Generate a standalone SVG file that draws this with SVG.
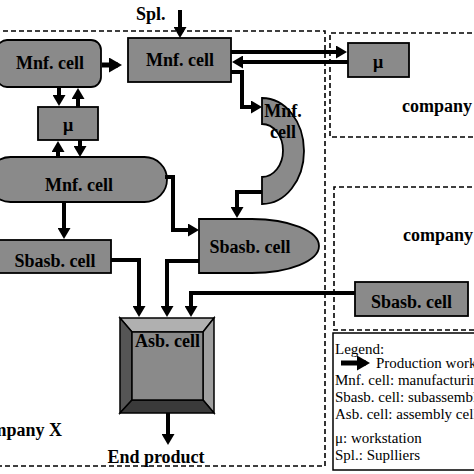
<svg xmlns="http://www.w3.org/2000/svg" width="474" height="474" viewBox="0 0 474 474">
<style>
.bg{fill:#ffffff}
.dash{fill:none;stroke:#000;stroke-width:1.6;stroke-dasharray:5 3}
.node{fill:#8a8a8a;stroke:#000;stroke-width:1.8}
.lbl{font-family:"Liberation Serif","Times New Roman",serif;font-weight:bold;font-size:18px;fill:#000;text-anchor:middle}
.big{font-family:"Liberation Serif","Times New Roman",serif;font-weight:bold;font-size:18px;fill:#000}
.leg{font-family:"Liberation Serif","Times New Roman",serif;font-size:15px;fill:#000}
.conn{fill:none;stroke:#000;stroke-width:4;marker-end:url(#ah)}
</style>
<defs>
<marker id="ah" viewBox="0 0 11 13" refX="7" refY="6.5" markerWidth="11" markerHeight="13" markerUnits="userSpaceOnUse" orient="auto">
<path d="M0,0 L11,6.5 L0,13 Z" fill="#000"/>
</marker>
<marker id="ahb" viewBox="0 0 13 15" refX="9" refY="7.5" markerWidth="13" markerHeight="15" markerUnits="userSpaceOnUse" orient="auto">
<path d="M0,0 L13,7.5 L0,15 Z" fill="#000"/>
</marker>
</defs>
<rect class="bg" x="0" y="0" width="474" height="474"/>

<g id="regions">
<path class="dash" d="M-5,31 H325 V466 H-5"/>
<path class="dash" d="M480,33 H330 V137 H480"/>
<path class="dash" d="M480,187 H334 V330 H480"/>
<text class="big" x="402" y="112">company</text>
<text class="big" x="403" y="241">company</text>
<text class="big" x="62" y="436" text-anchor="end">Company X</text>
</g>

<g id="spl">
<text class="big" x="136" y="20">Spl.</text>
</g>

<g id="mnf-tl">
<rect class="node" x="-3" y="40" width="104" height="47" rx="10"/>
<text class="lbl" x="50" y="69">Mnf. cell</text>
</g>

<g id="mnf-top">
<rect class="node" x="128" y="38" width="103" height="44"/>
<text class="lbl" x="180" y="66">Mnf. cell</text>
</g>

<g id="mu-right">
<rect class="node" x="348" y="43" width="61" height="34"/>
<text class="lbl" x="378" y="68">μ</text>
</g>

<g id="mu-left">
<rect class="node" x="38" y="107" width="60" height="33"/>
<text class="lbl" x="68" y="131">μ</text>
</g>

<g id="mnf-curved">
<path class="node" d="M262,98 A42,53 0 0 1 262,204 V177 A21,26.5 0 0 0 262,124 Z"/>
<text class="lbl" x="283" y="117">Mnf.</text>
<text class="lbl" x="283" y="138">cell</text>
</g>

<g id="mnf-mid">
<rect class="node" x="-12" y="157" width="179" height="45" rx="22.5"/>
<text class="lbl" x="79" y="191">Mnf. cell</text>
</g>

<g id="sbasb-left">
<rect class="node" x="-2" y="240" width="113" height="33"/>
<text class="lbl" x="55" y="267">Sbasb. cell</text>
</g>

<g id="sbasb-mid">
<path class="node" d="M199,219 H252 A67,27 0 0 1 252,273 H199 Z"/>
<text class="lbl" x="250" y="253">Sbasb. cell</text>
</g>

<g id="sbasb-right">
<rect class="node" x="355" y="282" width="113" height="34"/>
<text class="lbl" x="411.5" y="308">Sbasb. cell</text>
</g>

<g id="asb">
<polygon points="120,318 214,318 203,332 132,332" fill="#b0b0b0" stroke="#000" stroke-width="1.5"/>
<polygon points="120,318 132,332 132,400 120,413" fill="#555" stroke="#000" stroke-width="1.5"/>
<polygon points="214,318 214,413 203,400 203,332" fill="#a0a0a0" stroke="#000" stroke-width="1.5"/>
<polygon points="120,413 214,413 203,400 132,400" fill="#3a3a3a" stroke="#000" stroke-width="1.5"/>
<rect x="132" y="332" width="71" height="68" fill="#8a8a8a" stroke="#000" stroke-width="1.5"/>
<text class="lbl" x="167.5" y="347">Asb. cell</text>
</g>

<g id="end-product">
<text class="lbl" x="156" y="463">End product</text>
</g>

<g id="connectors">
<path d="M102,65 H118" fill="none" stroke="#000" stroke-width="5" marker-end="url(#ahb)"/>
<path class="conn" d="M180,10 V34"/>
<path class="conn" d="M231,52 H343"/>
<path class="conn" d="M348,62 H236"/>
<path class="conn" d="M231,72 H242 V107 H258"/>
<path class="conn" d="M59,87 V102"/>
<path class="conn" d="M78,107 V92"/>
<path class="conn" d="M58,157 V145"/>
<path class="conn" d="M80,140 V153"/>
<path class="conn" d="M64,202 V235"/>
<path class="conn" d="M165,177 H173 V230 H195"/>
<path class="conn" d="M262,192 H237 V214"/>
<path class="conn" d="M111,260 H139 V313"/>
<path class="conn" d="M199,261 H167 V313"/>
<path class="conn" d="M355,293 H191 V313"/>
<path class="conn" d="M168,413 V441"/>
</g>

<g id="legend">
<path d="M480,333 H333 V470 H480" fill="none" stroke="#000" stroke-width="1.5"/>
<text class="leg" x="335" y="354">Legend:</text>
<path d="M341,363 H366" fill="none" stroke="#000" stroke-width="5" marker-end="url(#ahb)"/>
<text class="leg" x="376" y="368">Production workflow</text>
<text class="leg" x="335" y="385">Mnf. cell: manufacturing cell</text>
<text class="leg" x="335" y="402">Sbasb. cell: subassembly cell</text>
<text class="leg" x="335" y="419">Asb. cell: assembly cell</text>
<text class="leg" x="335" y="443">μ: workstation</text>
<text class="leg" x="335" y="460">Spl.: Suplliers</text>
</g>
</svg>
